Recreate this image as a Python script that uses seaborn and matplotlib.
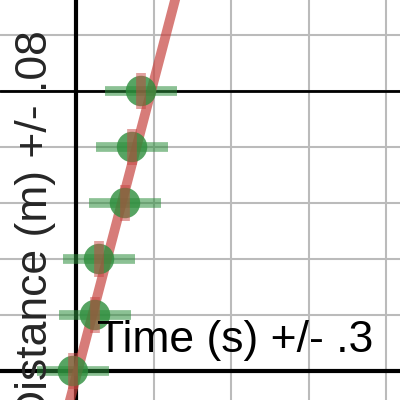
import matplotlib
matplotlib.use("Agg")
import matplotlib.pyplot as plt
import seaborn as sns
import numpy as np
import pandas as pd

time_s = [-0.04, 0.245, 0.297, 0.632, 0.723, 0.839]
distance_m = [0, 1, 2, 3, 4, 5]
x_err = 0.46
y_err = 0.32
fit_slope = 5.27
fit_intercept = -0.11

sns.set_style("white")
plt.rcParams['font.family'] = ['Liberation Sans', 'DejaVu Sans']
fig = plt.figure(figsize=(4, 4), dpi=100)
ax = fig.add_axes([0, 0, 1, 1])
xmin, xmax = -76/77.5, 324/77.5
ymin, ymax = -29/56, 371/56
ax.set_xlim(xmin, xmax); ax.set_ylim(ymin, ymax)
for s in ax.spines.values():
    s.set_visible(False)
ax.set_xticks([]); ax.set_yticks([])
for gx in range(-1, 5):
    ax.axvline(gx, color='#bbbbbb', lw=1.5, zorder=0)
for gy in range(-1, 7):
    ax.axhline(gy, color='#bbbbbb', lw=1.5, zorder=0)
ax.axvline(0, color='black', lw=3, zorder=1)
ax.axhline(0, color='black', lw=3, zorder=1)
ax.axhline(5, color='black', lw=2, zorder=1)

xs = np.array([xmin, xmax])
ax.plot(xs, fit_slope*xs + fit_intercept, color='#c74440', lw=7, alpha=0.7, zorder=3)
ax.errorbar(time_s, distance_m, xerr=x_err, fmt='none', ecolor='#2d8e3c', elinewidth=7, alpha=0.55, zorder=2, capsize=0)
df = pd.DataFrame({'t': time_s, 'd': distance_m})
sns.scatterplot(data=df, x='t', y='d', ax=ax, s=480, color='#2d8e3c', alpha=0.8, edgecolor='none', zorder=3)
ax.errorbar(time_s, distance_m, yerr=y_err, fmt='none', ecolor='#c74440', elinewidth=7, alpha=0.5, zorder=4, capsize=0)
ax.set_xlabel(''); ax.set_ylabel('')
ax.set_xlim(xmin, xmax); ax.set_ylim(ymin, ymax)

fig.text(97/400, 1-352/400, 'Time (s) +/- .3', fontsize=32, color='black', ha='left', va='baseline', zorder=5)
fig.text(36/400, 1-30/400, 'Distance (m) +/- .08', fontsize=32, rotation=90, ha='center', va='top', zorder=5)
fig.savefig('out.png', dpi=100)
